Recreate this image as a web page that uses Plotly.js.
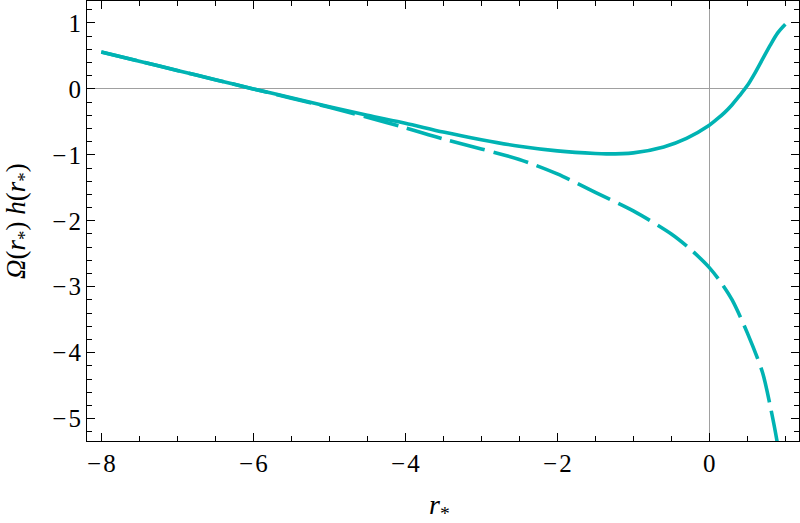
<!DOCTYPE html>
<html>
<head>
<meta charset="utf-8">
<script src="https://cdn.plot.ly/plotly-3.0.1.min.js"></script>
<style>html,body{margin:0;padding:0;background:#fff;}#chart{width:800px;height:523px;}</style>
</head>
<body>
<div id="chart"></div>
<script>
// solid curve: Ω(r*) h(r*)
const solidX = [-8.0, -7.5, -7.0, -6.5, -6.0, -5.5, -5.0, -4.5, -4.0, -3.5, -3.0, -2.5, -2.0, -1.5, -1.35, -1.0, -0.6, -0.3, 0.0, 0.1, 0.2, 0.3, 0.4, 0.5, 0.6, 0.7, 0.8, 0.9, 1.0];
const solidY = [0.56, 0.42, 0.28, 0.14, 0.0, -0.135, -0.27, -0.40, -0.52, -0.655, -0.77, -0.87, -0.94, -0.98, -0.985, -0.97, -0.88, -0.75, -0.55, -0.46, -0.36, -0.24, -0.10, 0.05, 0.24, 0.45, 0.66, 0.85, 0.98];
// dashed curve
const dashX = [-8.0, -7.5, -7.0, -6.5, -6.0, -5.5, -5.0, -4.5, -4.0, -3.5, -3.0, -2.5, -2.0, -1.5, -1.0, -0.5, -0.25, 0.0, 0.15, 0.3, 0.5, 0.7, 0.8, 0.886, 0.93];
const dashY = [0.56, 0.42, 0.28, 0.14, 0.0, -0.14, -0.28, -0.43, -0.59, -0.76, -0.91, -1.07, -1.29, -1.57, -1.85, -2.20, -2.43, -2.71, -2.93, -3.20, -3.70, -4.30, -4.80, -5.31, -5.65];
const xTicks = [-8, -6, -4, -2, 0];
const yTicks = [1, 0, -1, -2, -3, -4, -5];
const xTitle = '<i>r</i><sub>*</sub>';
const yTitle = '<i>Ω</i>(<i>r</i><sub>*</sub>) <i>h</i>(<i>r</i><sub>*</sub>)';

const teal = '#00B3B3';
const serif = 'Liberation Serif, DejaVu Serif, serif';
const fmt = v => v < 0 ? '\u2212\u200A' + Math.abs(v) : String(v);
const traces = [
  {x: dashX, y: dashY, mode: 'lines', line: {color: teal, width: 3.6, dash: '36px,9px', shape: 'spline', smoothing: 0.8}, hoverinfo: 'skip'},
  {x: solidX, y: solidY, mode: 'lines', line: {color: teal, width: 3.6, shape: 'spline', smoothing: 0.8}, hoverinfo: 'skip'}
];
const tickFont = {family: serif, size: 25, color: '#000'};
const layout = {
  width: 800, height: 523,
  font: {family: serif, size: 25, color: '#000'},
  margin: {l: 87, r: 1, t: 1, b: 82},
  paper_bgcolor: '#fff', plot_bgcolor: '#fff',
  showlegend: false,
  xaxis: {
    range: [-8.188, 1.18],
    tickmode: 'array',
    tickvals: xTicks, ticktext: xTicks.map(fmt),
    ticks: 'inside', ticklen: 8, tickwidth: 1, tickcolor: '#000',
    minor: {ticks: 'inside', dtick: 0.5, tick0: 0, ticklen: 5, tickwidth: 1, tickcolor: '#000'},
    showline: true, linecolor: '#000', linewidth: 1, mirror: 'ticks',
    showgrid: false, zeroline: true, zerolinecolor: '#a0a0a0', zerolinewidth: 1,
    tickfont: tickFont
  },
  yaxis: {
    range: [-5.34, 1.333],
    tickmode: 'array',
    tickvals: yTicks, ticktext: yTicks.map(fmt),
    ticks: 'inside', ticklen: 8, tickwidth: 1, tickcolor: '#000',
    minor: {ticks: 'inside', dtick: 0.2, tick0: 0, ticklen: 5, tickwidth: 1, tickcolor: '#000'},
    showline: true, linecolor: '#000', linewidth: 1, mirror: 'ticks',
    showgrid: false, zeroline: true, zerolinecolor: '#a0a0a0', zerolinewidth: 1,
    tickfont: tickFont
  },
  annotations: [
    {text: xTitle, xref: 'paper', yref: 'paper', x: 0.5, y: 0, xanchor: 'center', yanchor: 'top', yshift: -46, xshift: -4,
     showarrow: false, font: {family: serif, size: 28, color: '#000'}},
    {text: yTitle, xref: 'paper', yref: 'paper', x: 0, y: 0.5, xanchor: 'center', yanchor: 'middle', xshift: -69, textangle: -90,
     showarrow: false, font: {family: serif, size: 27, color: '#000'}}
  ]
};
Plotly.newPlot('chart', traces, layout, {staticPlot: true, displayModeBar: false});
</script>
</body>
</html>
